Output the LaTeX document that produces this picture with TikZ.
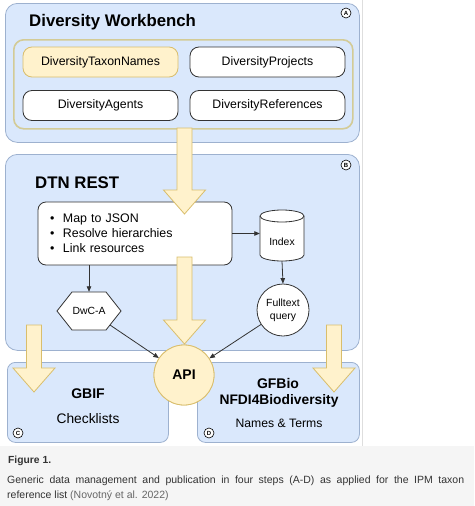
\documentclass[tikz,border=0pt]{standalone}
\usepackage{fontspec}
\setmainfont{Liberation Sans}
\usetikzlibrary{arrows.meta}
\definecolor{bluefill}{HTML}{DAE8FC}
\definecolor{bluedraw}{HTML}{9DB1CF}
\definecolor{yfill}{HTML}{FFF2CC}
\definecolor{ydraw}{HTML}{D9BE6C}
\definecolor{innerdraw}{HTML}{D3CB96}
\definecolor{dk}{HTML}{333333}
\definecolor{capbg}{HTML}{F5F5F5}
\definecolor{capgray}{HTML}{666666}
\newcommand\fatarrow[4]{%
  \draw[fat] (#1-7.5,#2) -- (#1+7.5,#2) -- (#1+7.5,#3) -- (#1+21,#3) -- (#1,#4) -- (#1-21,#3) -- (#1-7.5,#3) -- cycle;}
\begin{document}
\begin{tikzpicture}[x=1pt,y=-1pt,
  panel/.style={draw=bluedraw, fill=bluefill, line width=0.8pt},
  modbox/.style={draw=dk, fill=white, rounded corners=9pt, line width=0.8pt,
    minimum width=155pt, minimum height=30pt, font=\fontsize{12.3}{14}\selectfont},
  title/.style={anchor=base west, inner sep=0pt, font=\bfseries\fontsize{16.8}{20}\selectfont},
  bigtxt/.style={inner sep=0pt, font=\bfseries\fontsize{14}{16}\selectfont},
  midtxt/.style={inner sep=0pt, font=\fontsize{13}{15}\selectfont},
  smalltxt/.style={font=\fontsize{10.4}{13}\selectfont},
  conn/.style={draw=dk, line width=0.8pt, -{Triangle[length=5.5pt,width=4.5pt]}},
  fat/.style={draw=ydraw, fill=yfill, line width=0.8pt, line join=miter},
  lab/.style={circle, draw=black, fill=white, line width=0.6pt, inner sep=0pt,
    minimum size=10pt, font=\bfseries\fontsize{6}{6}\selectfont}]
\useasboundingbox (0,0) rectangle (474,506);
\fill[white] (0,0) rectangle (474,506);
\fill[capbg] (0,446) rectangle (474,506);
\draw[black!13] (362.5,0) -- (362.5,446);

% panels
\node[panel, rounded corners=12pt, anchor=north west, minimum width=354pt, minimum height=139pt] (pa) at (5,3) {};
\node[panel, rounded corners=12pt, anchor=north west, minimum width=354pt, minimum height=196pt] (pb) at (5,154) {};
\node[panel, rounded corners=8pt, anchor=north west, minimum width=161pt, minimum height=80pt] (pc) at (7,362) {};
\node[panel, rounded corners=8pt, anchor=north west, minimum width=162pt, minimum height=80pt] (pd) at (197,362) {};

\node[lab] (la) at (346,13) {A};
\node[lab] (lb) at (346,165) {B};
\node[lab] (lc) at (18,433) {C};
\node[lab] (ld) at (209,433) {D};

% panel A
\node[title] (ta) at (29,27) {Diversity Workbench};
\node[draw=innerdraw, fill=bluefill, line width=1.6pt, rounded corners=10pt, anchor=north west,
  minimum width=339pt, minimum height=89pt] (inner) at (13,39) {};
\node[modbox, fill=yfill, draw=ydraw] (dtn) at (100.5,62) {DiversityTaxonNames};
\node[modbox] (dpr) at (267.5,62) {DiversityProjects};
\node[modbox] (dag) at (100.5,105.5) {DiversityAgents};
\node[modbox] (dre) at (267.5,105.5) {DiversityReferences};

% panel B
\node[title] (tb) at (35,188) {DTN REST};
\node[draw=dk, fill=white, rounded corners=8pt, line width=0.8pt, minimum height=63pt,
  text width=170pt, inner xsep=12pt, align=left, font=\fontsize{12.4}{15}\selectfont] (proc) at (135,233.5)
  {\makebox[13pt][l]{•}Map to JSON\\\makebox[13pt][l]{•}Resolve hierarchies\\\makebox[13pt][l]{•}Link resources};

% index cylinder
\draw[draw=dk, fill=white, line width=0.8pt] (260,216) -- (260,255)
  arc[start angle=180, end angle=360, x radius=22pt, y radius=6pt] -- (304,216)
  arc[start angle=0, end angle=180, x radius=22pt, y radius=6pt] -- cycle;
\draw[draw=dk, line width=0.8pt] (260,216) arc[start angle=180, end angle=360, x radius=22pt, y radius=6pt];
\node[smalltxt, minimum width=44pt, minimum height=38pt, inner sep=0pt] (idx) at (282,242) {Index};

% fulltext query
\node[circle, draw=dk, fill=white, line width=0.8pt, minimum size=52pt, inner sep=0pt, align=center,
  smalltxt] (ft) at (283,310) {Fulltext\\query};

% DwC-A hexagon
\draw[draw=dk, fill=white, line width=0.8pt] (57,311) -- (72,292) -- (106,292) -- (121,311) -- (106,330) -- (72,330) -- cycle;
\node[smalltxt, minimum width=64pt, minimum height=38pt, inner sep=0pt] (dwc) at (89,311) {DwC-A};
\coordinate (dwcout) at (110,325);

% API
\node[circle, draw=ydraw, fill=yfill, line width=0.8pt, minimum size=60pt, inner sep=0pt,
  font=\bfseries\fontsize{14}{16}\selectfont] (api) at (184,375) {API};

% small connectors
\draw[conn] (proc.east) -- (proc.east -| idx.west);
\draw[conn] (idx.south) -- (ft.north);
\draw[conn] (proc.south -| dwc.north) -- (dwc.north);
\draw[conn] (dwcout) -- (api);
\draw[conn] (ft) -- (api);

% panels C and D text
\node[bigtxt] (gbif) at (88,394) {GBIF};
\node[midtxt, font=\fontsize{13.8}{16}\selectfont] (chk) at (88,418.5) {Checklists};
\node[bigtxt] (gfb) at (278,383) {GFBio};
\node[bigtxt, font=\bfseries\fontsize{13.8}{16}\selectfont] (nfdi) at (279,401) {NFDI4Biodiversity};
\node[midtxt, font=\fontsize{12.2}{14}\selectfont] (nat) at (279,423.5) {Names \& Terms};

% fat arrows
\fatarrow{184.5}{128}{190}{214}
\fatarrow{184.5}{257}{320}{344}
\fatarrow{34}{325}{368}{392}
\fatarrow{334}{325}{368}{392}
\node[circle, draw=ydraw, fill=yfill, line width=0.8pt, minimum size=60pt, inner sep=0pt,
  font=\bfseries\fontsize{14}{16}\selectfont] (api2) at (api) {API};

% caption
\node[anchor=base west, inner sep=0pt, text=dk, font=\bfseries\fontsize{10.3}{12}\selectfont] (figlab) at (8,463) {Figure 1.};
\node[anchor=north west, inner sep=0pt, text width=457pt, align=justify, text=dk,
  font=\fontsize{10.5}{15}\selectfont] (cap) at (7,476)
  {Generic data management and publication in four steps (A-D) as applied for the IPM taxon\linebreak
   reference list {\color{capgray}(Novotný et al. 2022)}};
\end{tikzpicture}
\end{document}
